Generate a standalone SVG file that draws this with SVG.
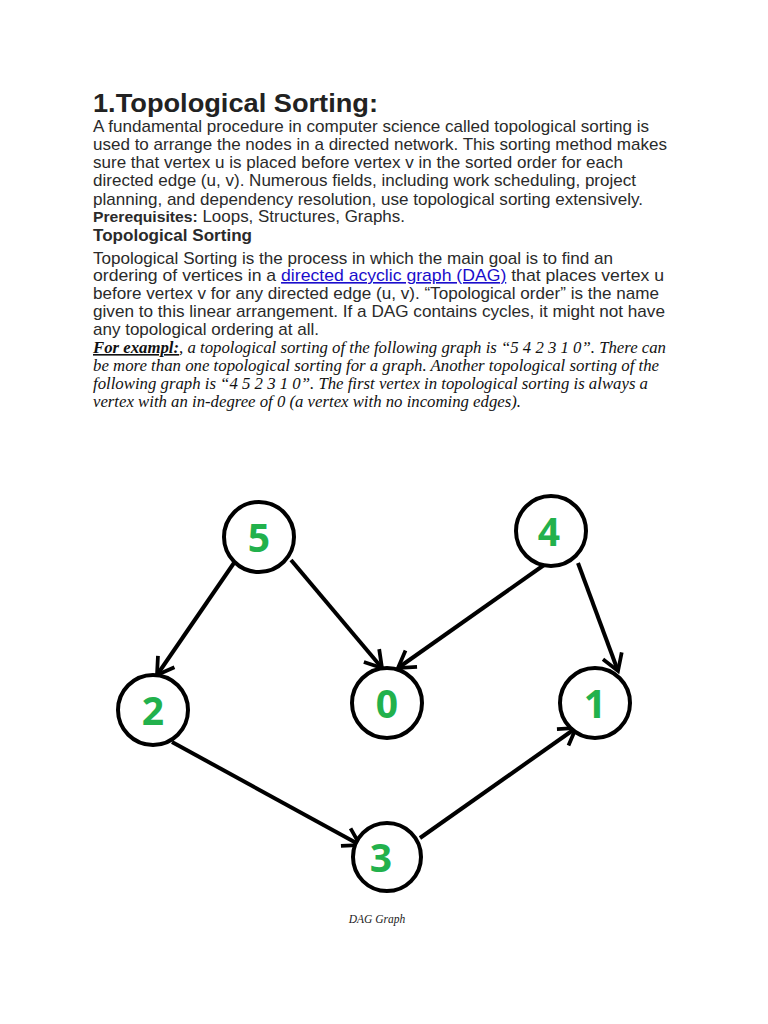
<svg xmlns="http://www.w3.org/2000/svg" width="768" height="1024" viewBox="0 0 768 1024">
<defs>
<style>
.t{font-family:"Liberation Sans",Arial,sans-serif;font-size:16.2px;fill:#2a2a2a}
.b{font-weight:bold}
.i{font-family:"Liberation Serif","Times New Roman",serif;font-style:italic;font-size:16px;fill:#111}
.n{fill:#fff;stroke:#000;stroke-width:4}
.d{font-family:"Open Sans","Liberation Sans",sans-serif;font-weight:bold;font-size:39px;fill:#22b14c;text-anchor:middle}
.e{stroke:#000;stroke-width:4;fill:none;marker-end:url(#ah)}
</style>
<marker id="ah" markerUnits="userSpaceOnUse" markerWidth="30" markerHeight="30" refX="0" refY="0" viewBox="-16 -12 20 24" orient="auto">
<path d="M -13 -8 L 0 0 L -13 8" fill="none" stroke="#000" stroke-width="3"/>
</marker>
</defs>
<rect width="768" height="1024" fill="#fff"/>
<g id="text">
<text x="93" y="112" font-family="Liberation Sans,Arial,sans-serif" font-weight="bold" font-size="25" fill="#222" textLength="285" lengthAdjust="spacingAndGlyphs">1.Topological Sorting:</text>
<text class="t" x="93" y="132" textLength="556" lengthAdjust="spacingAndGlyphs">A fundamental procedure in computer science called topological sorting is</text>
<text class="t" x="93" y="150" textLength="574" lengthAdjust="spacingAndGlyphs">used to arrange the nodes in a directed network. This sorting method makes</text>
<text class="t" x="93" y="168" textLength="530" lengthAdjust="spacingAndGlyphs">sure that vertex u is placed before vertex v in the sorted order for each</text>
<text class="t" x="93" y="186" textLength="543" lengthAdjust="spacingAndGlyphs">directed edge (u, v). Numerous fields, including work scheduling, project</text>
<text class="t" x="93" y="205" textLength="550" lengthAdjust="spacingAndGlyphs">planning, and dependency resolution, use topological sorting extensively.</text>
<text class="t" x="93" y="222" textLength="312" lengthAdjust="spacingAndGlyphs"><tspan class="b" font-size="15">Prerequisites:</tspan> Loops, Structures, Graphs.</text>
<text class="t b" x="93" y="241" font-size="15.5" textLength="159" lengthAdjust="spacingAndGlyphs">Topological Sorting</text>
<text class="t" x="93" y="264" textLength="520" lengthAdjust="spacingAndGlyphs">Topological Sorting is the process in which the main goal is to find an</text>
<text class="t" x="93" y="281" textLength="571" lengthAdjust="spacingAndGlyphs">ordering of vertices in a <tspan fill="#1a0dcc" text-decoration="underline">directed acyclic graph (DAG)</tspan> that places vertex u</text>
<text class="t" x="93" y="299" textLength="566" lengthAdjust="spacingAndGlyphs">before vertex v for any directed edge (u, v). “Topological order” is the name</text>
<text class="t" x="93" y="317" textLength="572" lengthAdjust="spacingAndGlyphs">given to this linear arrangement. If a DAG contains cycles, it might not have</text>
<text class="t" x="93" y="335" textLength="226" lengthAdjust="spacingAndGlyphs">any topological ordering at all.</text>
<text class="i" x="93" y="353" textLength="573" lengthAdjust="spacingAndGlyphs"><tspan font-weight="bold" text-decoration="underline">For exampl:</tspan>, a topological sorting of the following graph is “5 4 2 3 1 0”. There can</text>
<text class="i" x="93" y="371" textLength="566" lengthAdjust="spacingAndGlyphs">be more than one topological sorting for a graph. Another topological sorting of the</text>
<text class="i" x="93" y="389" textLength="555" lengthAdjust="spacingAndGlyphs">following graph is “4 5 2 3 1 0”. The first vertex in topological sorting is always a</text>
<text class="i" x="93" y="407" textLength="428" lengthAdjust="spacingAndGlyphs">vertex with an in-degree of 0 (a vertex with no incoming edges).</text>
<text x="377" y="923" font-family="Liberation Serif,Times New Roman,serif" font-style="italic" font-size="11.5" fill="#222" text-anchor="middle">DAG Graph</text>
</g>
<g id="edges">
<line class="e" x1="236" y1="560" x2="157" y2="675"/>
<line class="e" x1="291" y1="560" x2="382" y2="668"/>
<line class="e" x1="544" y1="565" x2="398" y2="668"/>
<line class="e" x1="578" y1="563" x2="618" y2="671"/>
<line class="e" x1="172" y1="742" x2="360" y2="845"/>
<line class="e" x1="420" y1="838" x2="576" y2="728"/>
</g>
<g id="node5"><circle class="n" cx="259" cy="537" r="35"/><text class="d" x="259" y="552">5</text></g>
<g id="node4"><circle class="n" cx="551" cy="531" r="35"/><text class="d" x="549" y="546">4</text></g>
<g id="node2"><circle class="n" cx="153" cy="710" r="35"/><text class="d" x="153" y="725">2</text></g>
<g id="node0"><circle class="n" cx="387" cy="703" r="35"/><text class="d" x="387" y="718">0</text></g>
<g id="node1"><circle class="n" cx="595" cy="703" r="35"/><text class="d" x="595" y="718">1</text></g>
<g id="node3"><circle class="n" cx="387" cy="857" r="34"/><text class="d" x="381" y="872">3</text></g>
</svg>
